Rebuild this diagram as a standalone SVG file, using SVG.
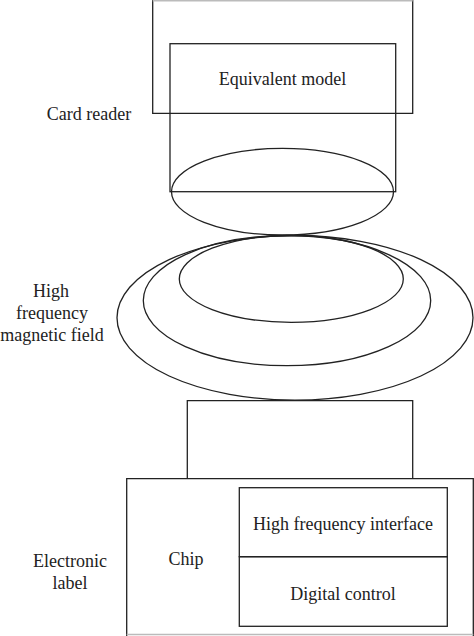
<svg xmlns="http://www.w3.org/2000/svg" width="474" height="636" viewBox="0 0 474 636">
<style>
.s{fill:none;stroke:#222;stroke-width:1.3}
.g{fill:none;stroke:#bbb;stroke-width:1.5}
.t{font-family:"Liberation Serif",serif;font-size:18px;fill:#222;text-anchor:middle}
</style>
<rect width="474" height="636" fill="#fff"/>
<g id="card-reader">
<path class="s" d="M152.7,0 V113.3 H412.7 V0"/>
<line class="g" x1="152.7" y1="0.7" x2="412.7" y2="0.7"/>
<text class="t" x="89" y="120">Card reader</text>
</g>
<g id="equivalent-model">
<rect class="s" x="170" y="43.7" width="225.7" height="148"/>
<text class="t" x="282.5" y="85">Equivalent model</text>
</g>
<g id="reader-coil">
<ellipse class="s" cx="282.5" cy="191.7" rx="111" ry="43.3"/>
</g>
<g id="magnetic-field">
<ellipse class="s" cx="295" cy="317.8" rx="178" ry="82.3"/>
<ellipse class="s" cx="287" cy="300.6" rx="143.7" ry="65.1"/>
<ellipse class="s" cx="291.3" cy="278.9" rx="112" ry="43.4"/>
<text class="t" x="51" y="297">High</text>
<text class="t" x="52" y="319">frequency</text>
<text class="t" x="52" y="341">magnetic field</text>
</g>
<g id="antenna">
<path class="s" d="M187.3,478.7 V400.7 H412.7 V478.7"/>
</g>
<g id="electronic-label">
<path class="s" d="M126.7,636 V478.7 H473.3 V636"/>
<line class="g" x1="126.7" y1="634.5" x2="473.3" y2="634.5"/>
<text class="t" x="186" y="565">Chip</text>
<text class="t" x="70" y="566.5">Electronic</text>
<text class="t" x="70" y="588.5">label</text>
</g>
<g id="hf-interface">
<rect class="s" x="239.3" y="487.7" width="208" height="69"/>
<text class="t" x="343" y="530">High frequency interface</text>
</g>
<g id="digital-control">
<rect class="s" x="239.3" y="556.7" width="208" height="69.6"/>
<text class="t" x="343" y="599.5">Digital control</text>
</g>
<g id="connectors"></g>
</svg>
